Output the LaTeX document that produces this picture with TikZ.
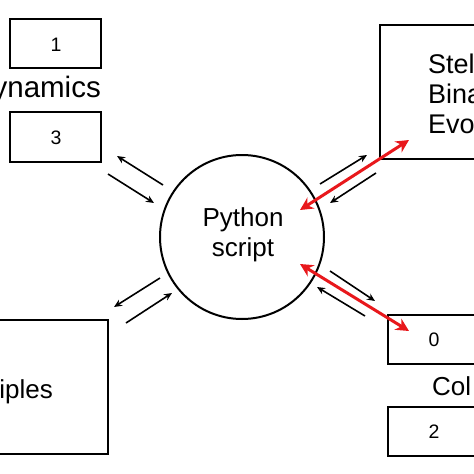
\documentclass[tikz,border=0pt]{standalone}
\usepackage{fontspec}
\setmainfont{Liberation Sans}
\usetikzlibrary{arrows.meta}
\definecolor{arrred}{RGB}{232,24,28}
\begin{document}
\begin{tikzpicture}[x=1pt,y=-1pt,
  box/.style={draw=black,line width=2pt,inner sep=0pt},
  lbl/.style={inner sep=0pt,font=\fontsize{26}{30}\selectfont},
  num/.style={inner sep=0pt,font=\fontsize{19.5}{22}\selectfont},
  flow/.style={draw=black,line width=1.6pt,-{Stealth[length=8pt,width=7pt]}},
  link/.style={draw=arrred,line width=3pt,{Stealth[length=13pt,width=13pt]}-{Stealth[length=13pt,width=13pt]}}]
\useasboundingbox (0,0) rectangle (474,474);
\clip (0,0) rectangle (474,474);
% boxes
\node[box,minimum width=91pt,minimum height=49pt] (b1) at (55.5,43.5) {};
\node[num] (t1) at (56,45) {1};
\node[lbl,anchor=base east,font=\fontsize{29.5}{32}\selectfont] (dyn) at (101,97) {Dynamics};
\node[box,minimum width=91pt,minimum height=50pt] (b3) at (55.5,137) {};
\node[num] (t3) at (56,138) {3};
\node[box,minimum width=160pt,minimum height=134pt] (bs) at (460,92) {};
\node[lbl,anchor=west,align=left,font=\fontsize{27}{30}\selectfont] (st) at (428,94) {Stellar\\Binary\\Evolution};
\node[box,minimum width=168pt,minimum height=134pt] (bp) at (24,387) {};
\node[lbl,anchor=base east] (pr) at (53,398) {Principles};
\node[box,minimum width=160pt,minimum height=49pt] (b0) at (468,339.5) {};
\node[num] (t0) at (434,340) {0};
\node[lbl,anchor=base west] (col) at (432,395) {Col};
\node[box,minimum width=160pt,minimum height=49pt] (b2) at (468,431.5) {};
\node[num] (t2) at (434,432) {2};
% circle
\node[draw=black,line width=2pt,circle,minimum size=164pt,inner sep=0pt] (py) at (242,237) {};
\node[lbl,align=center] (pt) at (243,235) {Python\\script};
% arrow endpoints
\coordinate (ul1s) at (163,185); \coordinate (ul1e) at (117,156);
\coordinate (ul2s) at (108,174); \coordinate (ul2e) at (154,203);
\coordinate (ur1s) at (320,184); \coordinate (ur1e) at (367,155);
\coordinate (ur2s) at (376,173); \coordinate (ur2e) at (330,203);
\coordinate (ll1s) at (160,278); \coordinate (ll1e) at (114,307);
\coordinate (ll2s) at (126,323); \coordinate (ll2e) at (172,293);
\coordinate (lr1s) at (330,271); \coordinate (lr1e) at (375,301);
\coordinate (lr2s) at (365,316); \coordinate (lr2e) at (317,287);
\coordinate (r1a) at (300,210); \coordinate (r1b) at (409,140);
\coordinate (r2a) at (300,264); \coordinate (r2b) at (409,331);
\draw[flow] (ul1s) -- (ul1e);
\draw[flow] (ul2s) -- (ul2e);
\draw[flow] (ur1s) -- (ur1e);
\draw[flow] (ur2s) -- (ur2e);
\draw[flow] (ll1s) -- (ll1e);
\draw[flow] (ll2s) -- (ll2e);
\draw[flow] (lr1s) -- (lr1e);
\draw[flow] (lr2s) -- (lr2e);
\draw[link] (r1a) -- (r1b);
\draw[link] (r2a) -- (r2b);
\end{tikzpicture}
\end{document}
